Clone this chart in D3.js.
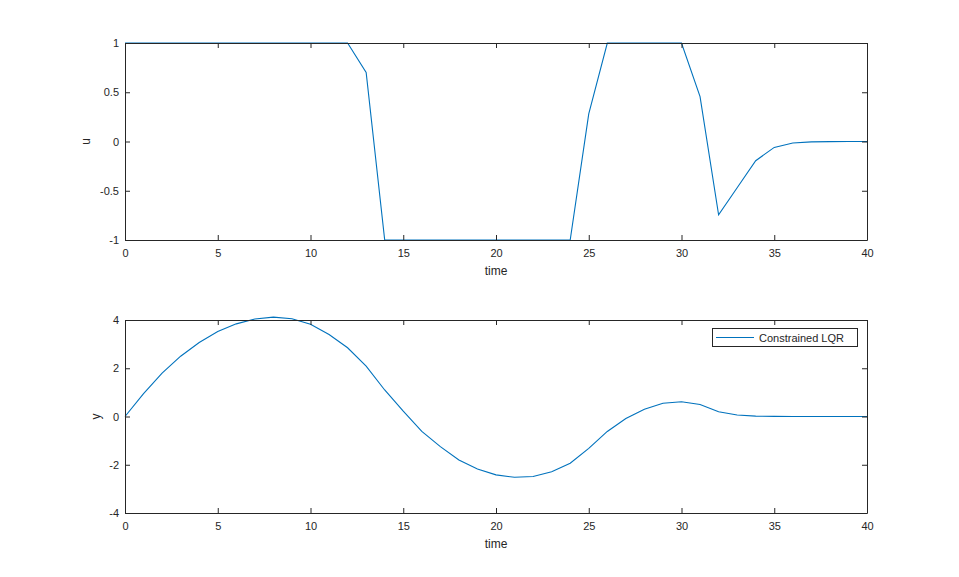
<!DOCTYPE html>
<html><head><meta charset="utf-8">
<script src="https://cdn.jsdelivr.net/npm/d3@7"></script>
<style>body{margin:0;background:#fff}svg{display:block}text{font-family:"Liberation Sans",Arial,sans-serif;fill:#262626}</style>
</head><body>
<svg id="c" width="959" height="577"></svg>
<script>
const time = d3.range(0, 41);
const uValues = [1,1,1,1,1,1,1,1,1,1,1,1,1,0.7,-1,-1,-1,-1,-1,-1,-1,-1,-1,-1,-1,0.28,1,1,1,1,1,0.455,-0.745,-0.47,-0.195,-0.06,-0.015,-0.004,-0.001,0,0];
const yValues = [0,0.95,1.8,2.5,3.07,3.52,3.84,4.04,4.12,4.05,3.82,3.4,2.85,2.09,1.1,0.22,-0.62,-1.25,-1.8,-2.18,-2.42,-2.52,-2.49,-2.29,-1.94,-1.32,-0.62,-0.08,0.3,0.55,0.61,0.5,0.2,0.06,0.015,0.004,0.001,0,0,0,0];
const xTicks = [0,5,10,15,20,25,30,35,40];
const uTicks = [-1,-0.5,0,0.5,1];
const yTicks = [-4,-2,0,2,4];
const legendLabel = "Constrained LQR";

const svg = d3.select("#c");
const axCol = "#262626", lineCol = "#0072BD";
const L = 125, R = 867;
const x = d3.scaleLinear().domain([0,40]).range([L,R]);

function panel(top, bottom, ydom, yticks, yData, ylab, labX, legend){
  const y = d3.scaleLinear().domain(ydom).range([bottom, top]);
  const g = svg.append("g");
  g.append("path").datum(time.map((t,i)=>[t,yData[i]]))
    .attr("fill","none").attr("stroke",lineCol).attr("stroke-width",1.1)
    .attr("d", d3.line().x(d=>x(d[0])).y(d=>y(d[1])));
  const fmt = d => String(d);
  const bx = g.append("g").attr("transform",`translate(0,${bottom})`)
    .call(d3.axisBottom(x).tickValues(xTicks).tickSizeInner(-5).tickSizeOuter(0).tickPadding(9).tickFormat(fmt));
  const tx = g.append("g").attr("transform",`translate(0,${top})`)
    .call(d3.axisTop(x).tickValues(xTicks).tickSizeInner(-5).tickSizeOuter(0).tickFormat(""));
  const ly = g.append("g").attr("transform",`translate(${L},0)`)
    .call(d3.axisLeft(y).tickValues(yticks).tickSizeInner(-5).tickSizeOuter(0).tickPadding(9).tickFormat(fmt));
  const ry = g.append("g").attr("transform",`translate(${R},0)`)
    .call(d3.axisRight(y).tickValues(yticks).tickSizeInner(-5).tickSizeOuter(0).tickFormat(""));
  [bx,tx,ly,ry].forEach(a=>{
    a.selectAll("path").attr("stroke",axCol);
    a.selectAll("line").attr("stroke",axCol);
    a.selectAll("text").attr("fill",axCol).style("font-size","11px").style("font-family","'Liberation Sans',Arial,sans-serif");
  });
  ly.selectAll("text").attr("dx","3");
  g.append("text").attr("x",(L+R)/2).attr("y",bottom+35).attr("text-anchor","middle")
    .style("font-size","12px").text("time");
  g.append("text").attr("transform",`translate(${labX},${(top+bottom)/2}) rotate(-90)`)
    .attr("text-anchor","middle").style("font-size","12px").text(ylab);
  if(legend){
    const lg = g.append("g").attr("transform","translate(712,328)");
    lg.append("rect").attr("x",0.5).attr("y",0.5).attr("width",145).attr("height",18)
      .attr("fill","#fff").attr("stroke",axCol).attr("stroke-width",1);
    lg.append("line").attr("x1",4).attr("x2",42).attr("y1",9.5).attr("y2",9.5)
      .attr("stroke",lineCol).attr("stroke-width",1.1);
    lg.append("text").attr("x",47).attr("y",13.5).style("font-size","11px").text(legend);
  }
}
panel(43, 240, [-1,1], uTicks, uValues, "u", 90, null);
panel(320, 513, [-4,4], yTicks, yValues, "y", 100, legendLabel);
</script>
</body></html>
